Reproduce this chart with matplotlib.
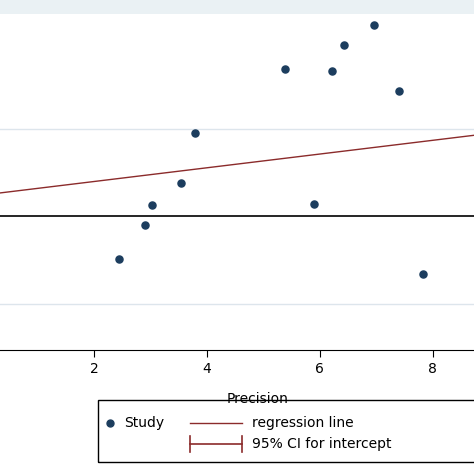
import matplotlib.pyplot as plt
from matplotlib.lines import Line2D
import numpy as np

# study points: precision vs standardized effect
precision = [2.44, 2.90, 3.03, 3.54, 3.79, 5.38, 5.89, 6.21, 6.42, 6.96, 7.40, 7.82]
std_effect = [-0.98, -0.21, 0.25, 0.75, 1.90, 3.36, 0.27, 3.31, 3.91, 4.37, 2.86, -1.33]

# regression line
reg_intercept = 0.477
reg_slope = 0.157

navy = '#1c3d5e'
red = '#8b2b2b'

fig = plt.figure(figsize=(4.74, 4.74), dpi=100)
# light outer band above the plot region
fig.patches.append(plt.Rectangle((0, 1 - 14 / 474), 1, 14 / 474,
                                 transform=fig.transFigure, color='#eaf1f4', lw=0))
ax = fig.add_axes([0.0, 0.2616, 1.0, 0.7384 - 14 / 474])

for g in [-2, 2]:
    ax.axhline(g, color='#dde5ec', lw=1, zorder=0)
ax.axhline(0, color='black', lw=1.2, zorder=1)

xs = np.array([0, 10])
ax.plot(xs, reg_intercept + reg_slope * xs, color=red, lw=1, zorder=2)
ax.scatter(precision, std_effect, s=26, color=navy, zorder=3)

ax.set_xlim(0.336, 8.73)
ax.set_ylim(-3.06, 4.94 - 14 / 43.75)
ax.set_xticks([2, 4, 6, 8])
ax.set_yticks([])
for s in ['top', 'right', 'left']:
    ax.spines[s].set_visible(False)
ax.tick_params(axis='x', labelsize=10, length=5)
ax.set_xlabel('Precision', fontsize=10)
ax.xaxis.set_label_coords(258 / 474, -0.125)

# legend box
fig.patches.append(plt.Rectangle((98 / 474, 1 - 462 / 474), 0.9, 62 / 474,
                                 transform=fig.transFigure, fill=False,
                                 edgecolor='black', lw=1))
fig.add_artist(Line2D([110 / 474], [1 - 423 / 474], marker='o', color=navy,
                      markersize=5, transform=fig.transFigure))
fig.text(124 / 474, 1 - 423 / 474, 'Study', fontsize=10, va='center')
fig.add_artist(Line2D([190 / 474, 242 / 474], [1 - 423 / 474] * 2, color=red,
                      lw=1, transform=fig.transFigure))
fig.text(252 / 474, 1 - 423 / 474, 'regression line', fontsize=10, va='center')
yc = 1 - 444 / 474
fig.add_artist(Line2D([190 / 474, 242 / 474], [yc, yc], color=red, lw=1.2,
                      transform=fig.transFigure))
for xe in [190 / 474, 242 / 474]:
    fig.add_artist(Line2D([xe, xe], [yc - 8 / 474, yc + 8 / 474], color=red,
                          lw=1.2, transform=fig.transFigure))
fig.text(252 / 474, yc, '95% CI for intercept', fontsize=10, va='center')

fig.savefig('out.png', dpi=100)
